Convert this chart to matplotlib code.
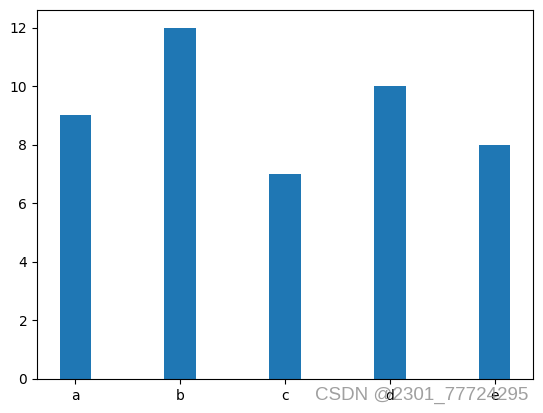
import matplotlib
matplotlib.use("Agg")
import matplotlib.pyplot as plt

names = ['a', 'b', 'c', 'd', 'e']
counts = [9, 12, 7, 10, 8]

fig = plt.figure(figsize=(5.43, 4.13), dpi=100)
ax = fig.add_axes([37 / 543, 34 / 413, 496 / 543, 369 / 413])
ax.bar(names, counts, width=0.3)

# watermark from the screenshot
fig.text(0.973, 0.022, 'CSDN @2301_77724295', ha='right', va='bottom',
         fontsize=13.5, color='#888888', alpha=0.8, family='Liberation Sans')

fig.savefig('out.png', dpi=100)
